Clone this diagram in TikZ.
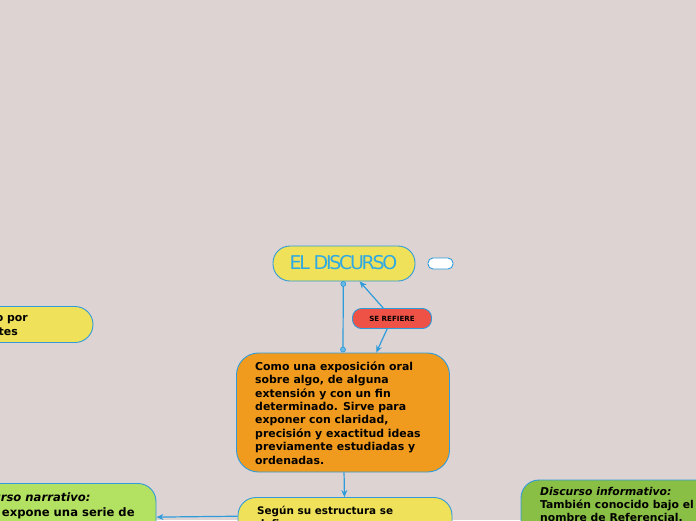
\documentclass[tikz,border=0pt]{standalone}
\usepackage{fontspec}
\setmainfont{DejaVu Sans}
\newfontfamily\titlefont[LetterSpace=-12]{DejaVu Sans}
\usetikzlibrary{arrows.meta}
\definecolor{bgc}{HTML}{DED3D3}
\definecolor{linec}{HTML}{2E9BDA}
\definecolor{titlec}{HTML}{2FA9E3}
\definecolor{yel}{HTML}{EFE15A}
\definecolor{ora}{HTML}{F19B1E}
\definecolor{redc}{HTML}{EE5246}
\definecolor{lgr}{HTML}{B3E162}
\definecolor{dgr}{HTML}{8ABF45}
\tikzset{
  x=1pt,y=-1pt,
  box/.style={draw=linec,line width=0.9pt,rounded corners=#1,inner sep=0pt},
  box/.default=18pt,
  txt/.style={font=\fontsize{10.9}{13.45}\selectfont\bfseries,align=left,inner sep=0pt,text=black},
  conn/.style={draw=linec,line width=1.2pt,-{Stealth[length=7pt,width=6pt]}},
  plainlink/.style={draw=linec,line width=1.2pt},
  pin/.style={circle,draw=linec,fill=linec!70,line width=0.7pt,inner sep=0pt,minimum size=5pt}
}
\begin{document}
\begin{tikzpicture}
\useasboundingbox (0,0) rectangle (696,520);
\clip (0,0) rectangle (696,520);
\fill[bgc] (0,0) rectangle (696,520);
% boxes
\node[box=17pt,fill=yel,minimum width=142pt,minimum height=35pt] (root) at (344,263.5) {};
\node[text=titlec,font=\titlefont\fontsize{19}{22}\selectfont] (rootlabel) at (343.5,262.5) {EL DISCURSO};
\node[box=5pt,fill=white,minimum width=25pt,minimum height=11pt] (bubble) at (440.5,263.5) {};
\node[box=9pt,fill=redc,minimum width=79pt,minimum height=20pt] (ref) at (392,318.5) {};
\node[font=\fontsize{7.1}{8}\selectfont\bfseries] (reflabel) at (392,318.7) {SE REFIERE};
\node[box=22pt,fill=ora,minimum width=213pt,minimum height=119pt] (def) at (343,412.5) {};
\node[txt,anchor=north west] (deflabel) at (255,361.2) {Como una exposición oral\\sobre algo, de alguna\\extensión y con un fin\\determinado. Sirve para\\exponer con claridad,\\precisión y exactitud ideas\\previamente estudiadas y\\ordenadas.};
\node[box=18pt,fill=yel,minimum width=214pt,minimum height=60pt] (est) at (345,527.5) {};
\node[txt,font=\fontsize{10.4}{13.45}\selectfont\bfseries,anchor=north west] (estlabel) at (257,505.5) {Según su estructura se\\define};
\node[box=18pt,fill=yel,minimum width=143pt,minimum height=36pt] (left) at (21.5,324.5) {};
\node[txt,align=right,anchor=north east] (leftlabel) at (28,315.5) {o por\\tes\kern10pt};
\node[box=18pt,fill=lgr,minimum width=216pt,minimum height=90pt] (nar) at (48,528.5) {};
\node[font=\fontsize{11.6}{15}\selectfont\bfseries,align=left,inner sep=0pt,anchor=north west] (narlabel) at (-35,492.5) {\textit{Discurso narrativo:}\\\kern16.5pt Se expone una serie de\\\kern64pt acontecimientos};
\node[box=18pt,fill=dgr,minimum width=216pt,minimum height=90pt] (inf) at (629,525) {};
\node[txt,font=\fontsize{10.8}{13}\selectfont\bfseries,anchor=north west] (inflabel) at (540,487.5) {\textit{Discurso informativo:}\\También conocido bajo el\\nombre de Referencial.};
% connectors
\coordinate[xshift=-0.7pt,yshift=-2.5pt] (rootpin) at (root.south);
\coordinate[yshift=3pt] (defpin) at (def.north);
\draw[plainlink] (rootpin) -- (defpin);
\node[pin] (p1) at (rootpin) {};
\node[pin] (p2) at (defpin) {};
\draw[conn] (ref.130.6) -- (root.-49.4);
\draw[conn] (ref.-115.5) -- (def.61.9);
\draw[conn] (def.-89) -- (est.91.9);
\draw[conn] (est.174.4) -- (nar.6.08);
\end{tikzpicture}
\end{document}
